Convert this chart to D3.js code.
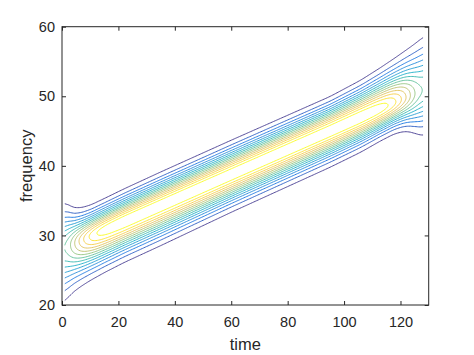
<!DOCTYPE html>
<html><head><meta charset="utf-8">
<script src="https://cdn.jsdelivr.net/npm/d3@7"></script>
<style>
body{margin:0;background:#fff}
text{font-family:"Liberation Sans",Arial,Helvetica,sans-serif;fill:#262626}
</style>
</head><body>
<svg id="chart" width="474" height="355"></svg>
<script>
// ---- data ----
const xTicks = [0, 20, 40, 60, 80, 100, 120];
const yTicks = [20, 30, 40, 50, 60];
const timeRange = [1, 128];            // sampled time axis
// ridge centre frequency at the two ends of the time axis
const ridgeT = [1, 128];
const ridgeF = [28.3, 50.9];
// peak amplitude of the ridge along time
const ampT = [1, 2, 3, 4.5, 6, 7.6, 9.5, 12, 16, 22, 106, 112, 116, 118.5, 120.4, 122, 123.5, 125, 126.5, 128];
const ampV = [0.52, 0.55, 0.6, 0.667, 0.733, 0.8, 0.867, 0.933, 0.98, 1, 1, 0.98, 0.933, 0.867, 0.8, 0.733, 0.667, 0.6, 0.55, 0.52];
// spread of the ridge above / below its centre along time
const sigT = [1, 3, 6, 10, 15, 22, 35, 60, 95, 106, 113, 118, 122, 125, 128];
const sigUp = [3.2, 2.6, 2.15, 1.95, 1.95, 2.0, 2.05, 2.1, 2.12, 2.3, 2.55, 2.8, 3.1, 3.4, 3.75];
const sigDown = [3.84, 3.4, 3.05, 2.8, 2.65, 2.55, 2.5, 2.35, 2.25, 2.15, 2.0, 1.97, 2.2, 2.7, 3.26];
// contour levels
const levels = [0.0667, 0.1333, 0.2, 0.2667, 0.3333, 0.4, 0.4667, 0.5333, 0.6, 0.6667, 0.7333, 0.8, 0.8667, 0.9333];
// parula colour map stops
const parula = ["#352a87", "#0363e1", "#1485d4", "#06a7c6", "#38b99e", "#92bf73", "#d9ba56", "#fcce2e", "#f9fb0e"];

// ---- layout ----
const svg = d3.select("#chart");
const L = 62, R = 428.7, T = 26.7, B = 305;
const x = d3.scaleLinear().domain([0, 130]).range([L, R]);
const y = d3.scaleLinear().domain([20, 60]).range([B, T]);

// ---- field ----
const ridge = d3.scaleLinear().domain(ridgeT).range(ridgeF);
const ampS = d3.scaleLinear().domain(ampT).range(ampV).clamp(true);
const upS = d3.scaleLinear().domain(sigT).range(sigUp).clamp(true);
const dnS = d3.scaleLinear().domain(sigT).range(sigDown).clamp(true);
const smooth = (s, t) => { let a = 0; for (let k = -2; k <= 2; k++) a += s(t + k * 0.75); return a / 5; };

const dt = 0.5, df = 0.1;
const n = Math.round((timeRange[1] - timeRange[0]) / dt) + 1;
const m = Math.round((60 - 20) / df) + 1;
const values = new Float64Array(n * m);
for (let i = 0; i < n; i++) {
  const t = timeRange[0] + i * dt;
  const c = ridge(t), A = smooth(ampS, t), su = smooth(upS, t), sd = smooth(dnS, t);
  for (let j = 0; j < m; j++) {
    const f = 20 + j * df;
    const s = f > c ? su : sd;
    values[j * n + i] = A * Math.exp(-((f - c) ** 2) / (2 * s * s));
  }
}
const contours = d3.contours().size([n, m]).thresholds(levels)(values);
const gt = gx => timeRange[0] + (gx - 0.5) * dt;
const gf = gy => 20 + (gy - 0.5) * df;
const cmap = d3.piecewise(d3.interpolateRgb, parula);
const lev = d3.scaleLinear().domain(d3.extent(levels)).range([0, 1]);
const line = d3.line().x(p => x(gt(p[0]))).y(p => y(gf(p[1])));

function splitRing(ring) {
  const isB = p => p[0] <= 0 || p[0] >= n || p[1] <= 0 || p[1] >= m;
  const r = ring.slice(0, -1);
  const k = r.findIndex(isB);
  if (k < 0) return [ring];
  const pts = r.slice(k).concat(r.slice(0, k));
  const segs = []; let cur = [];
  for (const p of pts) {
    if (isB(p)) { if (cur.length > 1) segs.push(cur); cur = []; }
    else cur.push(p);
  }
  if (cur.length > 1) segs.push(cur);
  return segs;
}

svg.append("clipPath").attr("id", "clip").append("rect")
  .attr("x", L).attr("y", T).attr("width", R - L).attr("height", B - T);
const gC = svg.append("g").attr("clip-path", "url(#clip)");
contours.forEach(ct => {
  const segs = [];
  ct.coordinates.forEach(poly => poly.forEach(ring => segs.push(...splitRing(ring))));
  gC.selectAll(null).data(segs).enter().append("path")
    .attr("d", line).attr("fill", "none")
    .attr("stroke", cmap(lev(ct.value))).attr("stroke-width", 1)
    .attr("stroke-opacity", 0.85)
    .attr("stroke-linejoin", "round");
});

// ---- axes ----
const fs = "14.5px";
const ax = svg.append("g").attr("transform", `translate(0,${B})`)
  .call(d3.axisBottom(x).tickValues(xTicks).tickSize(-4).tickSizeOuter(0).tickPadding(11.5));
const ay = svg.append("g").attr("transform", `translate(${L},0)`)
  .call(d3.axisLeft(y).tickValues(yTicks).tickSize(-4).tickSizeOuter(0).tickPadding(7));
const at = svg.append("g").attr("transform", `translate(0,${T})`)
  .call(d3.axisTop(x).tickValues(xTicks).tickSize(-4).tickSizeOuter(0).tickFormat(""));
const ar = svg.append("g").attr("transform", `translate(${R},0)`)
  .call(d3.axisRight(y).tickValues(yTicks).tickSize(-4).tickSizeOuter(0).tickFormat(""));
[ax, ay, at, ar].forEach(g => {
  g.select(".domain").remove();
  g.selectAll("line").attr("stroke", "#262626");
  g.selectAll("text").attr("fill", "#262626").style("font-size", fs)
    .style("font-family", '"Liberation Sans",Arial,sans-serif');
});
svg.append("rect").attr("x", L).attr("y", T).attr("width", R - L).attr("height", B - T)
  .attr("fill", "none").attr("stroke", "#262626").attr("stroke-width", 1);

svg.append("text").attr("x", (L + R) / 2).attr("y", 350).attr("text-anchor", "middle")
  .style("font-size", "16.5px").text("time");
svg.append("text").attr("transform", `translate(32,${(T + B) / 2}) rotate(-90)`)
  .attr("text-anchor", "middle").style("font-size", "16.5px").text("frequency");
</script>
</body></html>
